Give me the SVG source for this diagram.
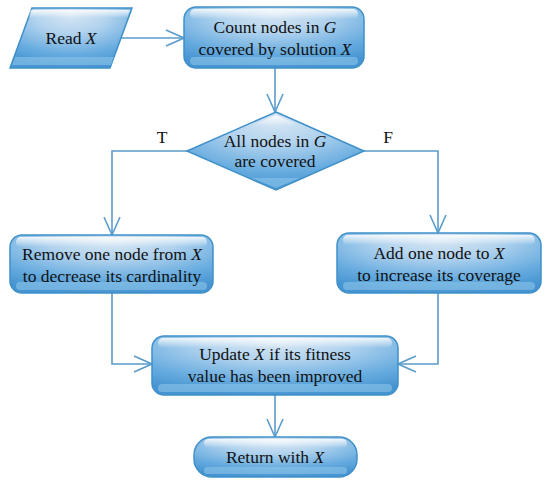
<svg xmlns="http://www.w3.org/2000/svg" width="550" height="488" viewBox="0 0 550 488">
<style>
.t{font-family:"Liberation Serif","Times New Roman","DejaVu Serif",serif;font-size:17.5px;fill:#111;text-anchor:middle}
.i{font-style:italic}
.box{fill:url(#g);stroke:#3f90c9;stroke-width:1.5}
.hl{fill:url(#h)}
.bb{fill:#8cc4ea;opacity:0.6}
.c{fill:none;stroke:#5b9ccb;stroke-width:1.6}
</style>
<defs>
<radialGradient id="g" cx="50%" cy="15%" r="85%" fx="50%" fy="10%">
<stop offset="0" stop-color="#d8e7f4"/>
<stop offset="0.35" stop-color="#b2d3ee"/>
<stop offset="0.75" stop-color="#66abdf"/>
<stop offset="1" stop-color="#4694d1"/>
</radialGradient>
<linearGradient id="h" x1="0" y1="0" x2="0" y2="1">
<stop offset="0" stop-color="#ffffff" stop-opacity="0.85"/>
<stop offset="1" stop-color="#ffffff" stop-opacity="0"/>
</linearGradient>
<marker id="arr" viewBox="0 0 20 20" refX="19" refY="10" markerWidth="20" markerHeight="20" markerUnits="userSpaceOnUse" orient="auto">
<path d="M1,2 L19,10 L1,18" fill="none" stroke="#5b9ccb" stroke-width="1.6"/>
</marker>
</defs>

<g id="connectors">
<path class="c" d="M121,38 H184" marker-end="url(#arr)"/>
<path class="c" d="M275,68 V112" marker-end="url(#arr)"/>
<path class="c" d="M187,151 H112 V235" marker-end="url(#arr)"/>
<path class="c" d="M364,151 H438 V233" marker-end="url(#arr)"/>
<path class="c" d="M112,293 V364 H152" marker-end="url(#arr)"/>
<path class="c" d="M438,293 V364 H398" marker-end="url(#arr)"/>
<path class="c" d="M275,395 V437" marker-end="url(#arr)"/>
<text class="t" x="162" y="143">T</text>
<text class="t" x="388" y="143">F</text>
</g>

<g id="read">
<polygon class="box" points="32,8 132,8 110,68 10,68"/>
<polygon class="hl" points="31,10 130,10 127,18 28,18"/>
<polygon class="bb" points="15,57 114,57 111,65 12,65"/>
<text class="t" x="71" y="44">Read <tspan class="i">X</tspan></text>
</g>

<g id="count">
<rect class="box" x="184" y="7" width="180" height="61" rx="12"/>
<rect class="hl" x="190" y="9" width="168" height="10" rx="5"/>
<rect class="bb" x="190" y="57" width="168" height="8" rx="4"/>
<text class="t" x="275" y="33">Count nodes in <tspan class="i">G</tspan></text>
<text class="t" x="275" y="55">covered by solution <tspan class="i">X</tspan></text>
</g>

<g id="decision">
<polygon class="box" points="276,112 364,151 276,190 187,151"/>
<polygon class="hl" points="276,115 300,126 252,126"/>
<polygon class="bb" points="252,178 300,178 276,188"/>
<text class="t" x="275" y="147">All nodes in <tspan class="i">G</tspan></text>
<text class="t" x="275" y="167">are covered</text>
</g>

<g id="remove">
<rect class="box" x="10" y="235" width="203" height="58" rx="12"/>
<rect class="hl" x="16" y="237" width="191" height="10" rx="5"/>
<rect class="bb" x="16" y="282" width="191" height="8" rx="4"/>
<text class="t" x="112" y="260">Remove one node from <tspan class="i">X</tspan></text>
<text class="t" x="112" y="282">to decrease its cardinality</text>
</g>

<g id="add">
<rect class="box" x="337" y="233" width="204" height="60" rx="12"/>
<rect class="hl" x="343" y="235" width="192" height="10" rx="5"/>
<rect class="bb" x="343" y="282" width="192" height="8" rx="4"/>
<text class="t" x="439" y="259">Add one node to <tspan class="i">X</tspan></text>
<text class="t" x="439" y="281">to increase its coverage</text>
</g>

<g id="update">
<rect class="box" x="152" y="336" width="246" height="59" rx="12"/>
<rect class="hl" x="158" y="338" width="234" height="10" rx="5"/>
<rect class="bb" x="158" y="384" width="234" height="8" rx="4"/>
<text class="t" x="275" y="360">Update <tspan class="i">X</tspan> if its fitness</text>
<text class="t" x="275" y="382">value has been improved</text>
</g>

<g id="return">
<rect class="box" x="194" y="437" width="163" height="40" rx="18"/>
<rect class="hl" x="204" y="439" width="143" height="9" rx="4.5"/>
<rect class="bb" x="204" y="467" width="143" height="7" rx="3.5"/>
<text class="t" x="275" y="463">Return with <tspan class="i">X</tspan></text>
</g>
</svg>
